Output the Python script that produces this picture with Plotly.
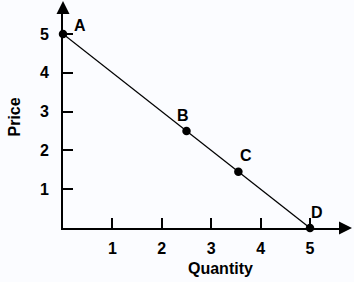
import plotly.graph_objects as go

# Demand curve data
line_q = [0, 5]
line_p = [5, 0]
point_labels = ["A", "B", "C", "D"]
point_q = [0, 2.5, 3.55, 5]
point_p = [5, 2.5, 1.45, 0]
label_dx = [17, -4, 8, 7]
label_dy = [9, 16, 16, 16]
tick_vals = [1, 2, 3, 4, 5]
x_title = "Quantity"
y_title = "Price"

FONT = "Liberation Sans, Arial, sans-serif"
BG = "#fbfcff"
FS = 16

fig = go.Figure()
fig.add_trace(go.Scatter(x=line_q, y=line_p, mode="lines",
                         line=dict(color="black", width=1.3),
                         cliponaxis=False, hoverinfo="skip"))
fig.add_trace(go.Scatter(x=point_q, y=point_p, mode="markers",
                         marker=dict(color="black", size=8.5),
                         cliponaxis=False))

for lab, q, p, dx, dy in zip(point_labels, point_q, point_p, label_dx, label_dy):
    fig.add_annotation(x=q, y=p, text="<b>%s</b>" % lab, showarrow=False,
                       xshift=dx, yshift=dy,
                       font=dict(family=FONT, size=FS, color="black"))

xmax = 5.607
ymax = 5.567
# axis arrowheads
fig.add_annotation(x=0, y=5.85, ax=0, ay=ymax - 0.05, axref="x", ayref="y",
                   xref="x", yref="y", text="", showarrow=True,
                   arrowhead=2, arrowsize=1.3, arrowwidth=2, arrowcolor="black")
fig.add_annotation(x=5.85, y=0, ax=xmax - 0.05, ay=0, axref="x", ayref="y",
                   xref="x", yref="y", text="", showarrow=True,
                   arrowhead=2, arrowsize=1.3, arrowwidth=2, arrowcolor="black")

axis_common = dict(showgrid=False, zeroline=False, showline=True,
                   linecolor="black", linewidth=2, ticks="inside",
                   ticklen=10, tickwidth=2, tickcolor="black",
                   tickvals=tick_vals,
                   tickfont=dict(family=FONT, size=FS, color="black", weight="bold"),
                   fixedrange=True)

fig.update_layout(
    width=354, height=282,
    margin=dict(l=63, r=14, t=12, b=54),
    paper_bgcolor=BG, plot_bgcolor=BG,
    showlegend=False,
    xaxis=dict(range=[0, xmax], ticklabelstandoff=5, **axis_common),
    yaxis=dict(range=[0, ymax], ticklabelstandoff=9, **axis_common),
)

fig.add_annotation(x=(220 - 63) / 277, y=(228 - 268) / 216, xref="paper",
                   yref="paper", yanchor="middle", xanchor="center",
                   text="<b>%s</b>" % x_title, showarrow=False,
                   font=dict(family=FONT, size=FS, color="black"))
fig.add_annotation(x=(14 - 63) / 277, y=(228 - 117.5) / 216, xref="paper",
                   yref="paper", xanchor="center", yanchor="middle",
                   text="<b>%s</b>" % y_title, showarrow=False, textangle=-90,
                   font=dict(family=FONT, size=FS, color="black"))

fig.write_html("out.html")
